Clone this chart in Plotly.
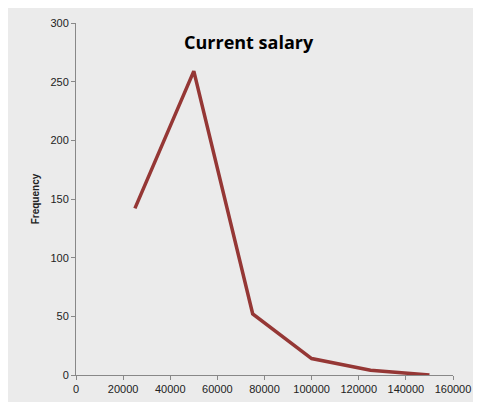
import plotly.graph_objects as go

salary = [25000, 50000, 75000, 100000, 125000, 150000]
frequency = [142, 259, 52, 14, 4, 0]

fig = go.Figure(go.Scatter(x=salary, y=frequency, mode="lines",
                           line=dict(color="#953735", width=3.5)))
fig.update_layout(
    width=481, height=402,
    margin=dict(l=68, r=36, t=15, b=35, autoexpand=False),
    paper_bgcolor="#ebebeb", plot_bgcolor="#ebebeb",
    showlegend=False,
    font=dict(family="Liberation Sans, Arial", size=11, color="#222"),
    annotations=[dict(text="<b>Current salary</b>", x=0.46, y=0.985, xref="paper", yref="paper",
                      xanchor="center", yanchor="top", showarrow=False,
                      font=dict(family="Open Sans, Calibri", size=18, color="black"))],
)
fig.update_xaxes(range=[0, 160000], dtick=20000, showgrid=False, zeroline=False, automargin=False,
                 showline=True, linecolor="#888", ticks="outside", ticklen=4, tickcolor="#888",
                 tickformat="d")
fig.update_yaxes(range=[0, 300], dtick=50, showgrid=False, zeroline=False, automargin=False,
                 showline=True, linecolor="#888", ticks="outside", ticklen=4, tickcolor="#888",
                 title=dict(text="<b>Frequency</b>", font=dict(size=10), standoff=8))
fig.write_html("out.html")
